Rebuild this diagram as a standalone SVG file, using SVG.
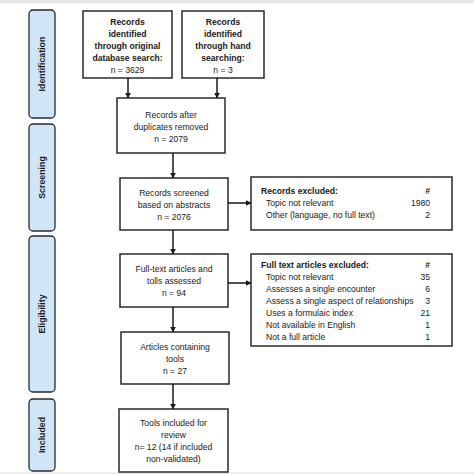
<svg xmlns="http://www.w3.org/2000/svg" width="474" height="474" viewBox="0 0 474 474">
<defs>
<marker id="ah" viewBox="0 0 10 10" refX="9" refY="5" markerWidth="6" markerHeight="6" markerUnits="userSpaceOnUse" orient="auto"><path d="M0,0 L10,5 L0,10 z" fill="#1a1a1a"/></marker>
<style>
.box{fill:#fff;stroke:#2a2a2a;stroke-width:1.5}
.tab{fill:#cfe5f8;stroke:#2a2a2a;stroke-width:1.3}
text{font-family:"Liberation Sans",Arial,sans-serif;font-size:8.6px;fill:#1a1a1a}
.c{text-anchor:middle}
.b{font-weight:bold}
.r{text-anchor:end}
.tl{font-weight:bold;text-anchor:middle;font-size:8.8px}
.conn line{stroke:#1a1a1a;stroke-width:1.5;marker-end:url(#ah)}
</style>
</defs>
<rect x="0" y="0" width="474" height="474" fill="#fff"/>
<rect x="0" y="0" width="474" height="3" fill="#e6e6e6"/>
<rect x="0" y="472.5" width="474" height="1.5" fill="#e6e6e6"/>
<g id="tab-identification"><rect class="tab" x="29" y="10" width="26" height="108" rx="4"/><text class="tl" transform="translate(45,64) rotate(-90)">Identification</text></g>
<g id="tab-screening"><rect class="tab" x="29" y="124" width="26" height="107" rx="4"/><text class="tl" transform="translate(45,177.5) rotate(-90)">Screening</text></g>
<g id="tab-eligibility"><rect class="tab" x="29" y="236" width="26" height="156" rx="4"/><text class="tl" transform="translate(45,314) rotate(-90)">Eligibility</text></g>
<g id="tab-included"><rect class="tab" x="29" y="399" width="26" height="72" rx="4"/><text class="tl" transform="translate(45,435) rotate(-90)">Included</text></g>
<g id="n-database"><rect class="box" x="83" y="11" width="89" height="67"/>
<text class="c b" x="127.5" y="25">Records</text><text class="c b" x="127.5" y="37">identified</text><text class="c b" x="127.5" y="49">through original</text><text class="c b" x="127.5" y="61">database search:</text><text class="c" x="127.5" y="73">n = 3629</text></g>
<g id="n-hand"><rect class="box" x="182" y="11" width="82" height="67"/>
<text class="c b" x="223" y="25">Records</text><text class="c b" x="223" y="37">identified</text><text class="c b" x="223" y="49">through hand</text><text class="c b" x="223" y="61">searching:</text><text class="c" x="223" y="73">n = 3</text></g>
<g id="n-dedup"><rect class="box" x="117" y="98" width="108" height="55"/>
<text class="c" x="171" y="118">Records after</text><text class="c" x="171" y="130">duplicates removed</text><text class="c" x="171" y="142">n = 2079</text></g>
<g id="n-screened"><rect class="box" x="120" y="178" width="108" height="52"/>
<text class="c" x="174" y="196">Records screened</text><text class="c" x="174" y="208">based on abstracts</text><text class="c" x="174" y="220">n = 2076</text></g>
<g id="n-excluded1"><rect class="box" x="251" y="177" width="201" height="53"/>
<text class="b" x="261" y="194">Records excluded:</text><text class="b r" x="430" y="194">#</text>
<text x="266" y="206">Topic not relevant</text><text class="r" x="430" y="206">1980</text>
<text x="266" y="218">Other (language, no full text)</text><text class="r" x="430" y="218">2</text></g>
<g id="n-fulltext"><rect class="box" x="120" y="254" width="108" height="53"/>
<text class="c" x="174" y="272">Full-text articles and</text><text class="c" x="174" y="284">tolls assessed</text><text class="c" x="174" y="296">n = 94</text></g>
<g id="n-excluded2"><rect class="box" x="251" y="254" width="201" height="92"/>
<text class="b" x="261" y="268">Full text articles excluded:</text><text class="b r" x="430" y="268">#</text>
<text x="266" y="280">Topic not relevant</text><text class="r" x="430" y="280">35</text>
<text x="266" y="292">Assesses a single encounter</text><text class="r" x="430" y="292">6</text>
<text x="266" y="304">Assess a single aspect of relationships</text><text class="r" x="430" y="304">3</text>
<text x="266" y="316">Uses a formulaic index</text><text class="r" x="430" y="316">21</text>
<text x="266" y="328">Not available in English</text><text class="r" x="430" y="328">1</text>
<text x="266" y="340">Not a full article</text><text class="r" x="430" y="340">1</text></g>
<g id="n-containing"><rect class="box" x="121" y="332" width="108" height="52"/>
<text class="c" x="175" y="350">Articles containing</text><text class="c" x="175" y="362">tools</text><text class="c" x="175" y="374">n = 27</text></g>
<g id="n-included"><rect class="box" x="119" y="409" width="109" height="63"/>
<text class="c" x="173.5" y="426">Tools included for</text><text class="c" x="173.5" y="438">review</text><text class="c" x="173.5" y="450">n= 12 (14 if included</text><text class="c" x="173.5" y="462">non-validated)</text></g>
<g id="connectors" class="conn">
<line x1="128" y1="78" x2="128" y2="98"/>
<line x1="217" y1="78" x2="217" y2="98"/>
<line x1="173" y1="153" x2="173" y2="178"/>
<line x1="228" y1="203" x2="251" y2="203"/>
<line x1="173" y1="230" x2="173" y2="254"/>
<line x1="228" y1="283" x2="251" y2="283"/>
<line x1="173" y1="307" x2="173" y2="332"/>
<line x1="173" y1="384" x2="173" y2="409"/>
</g>
</svg>
